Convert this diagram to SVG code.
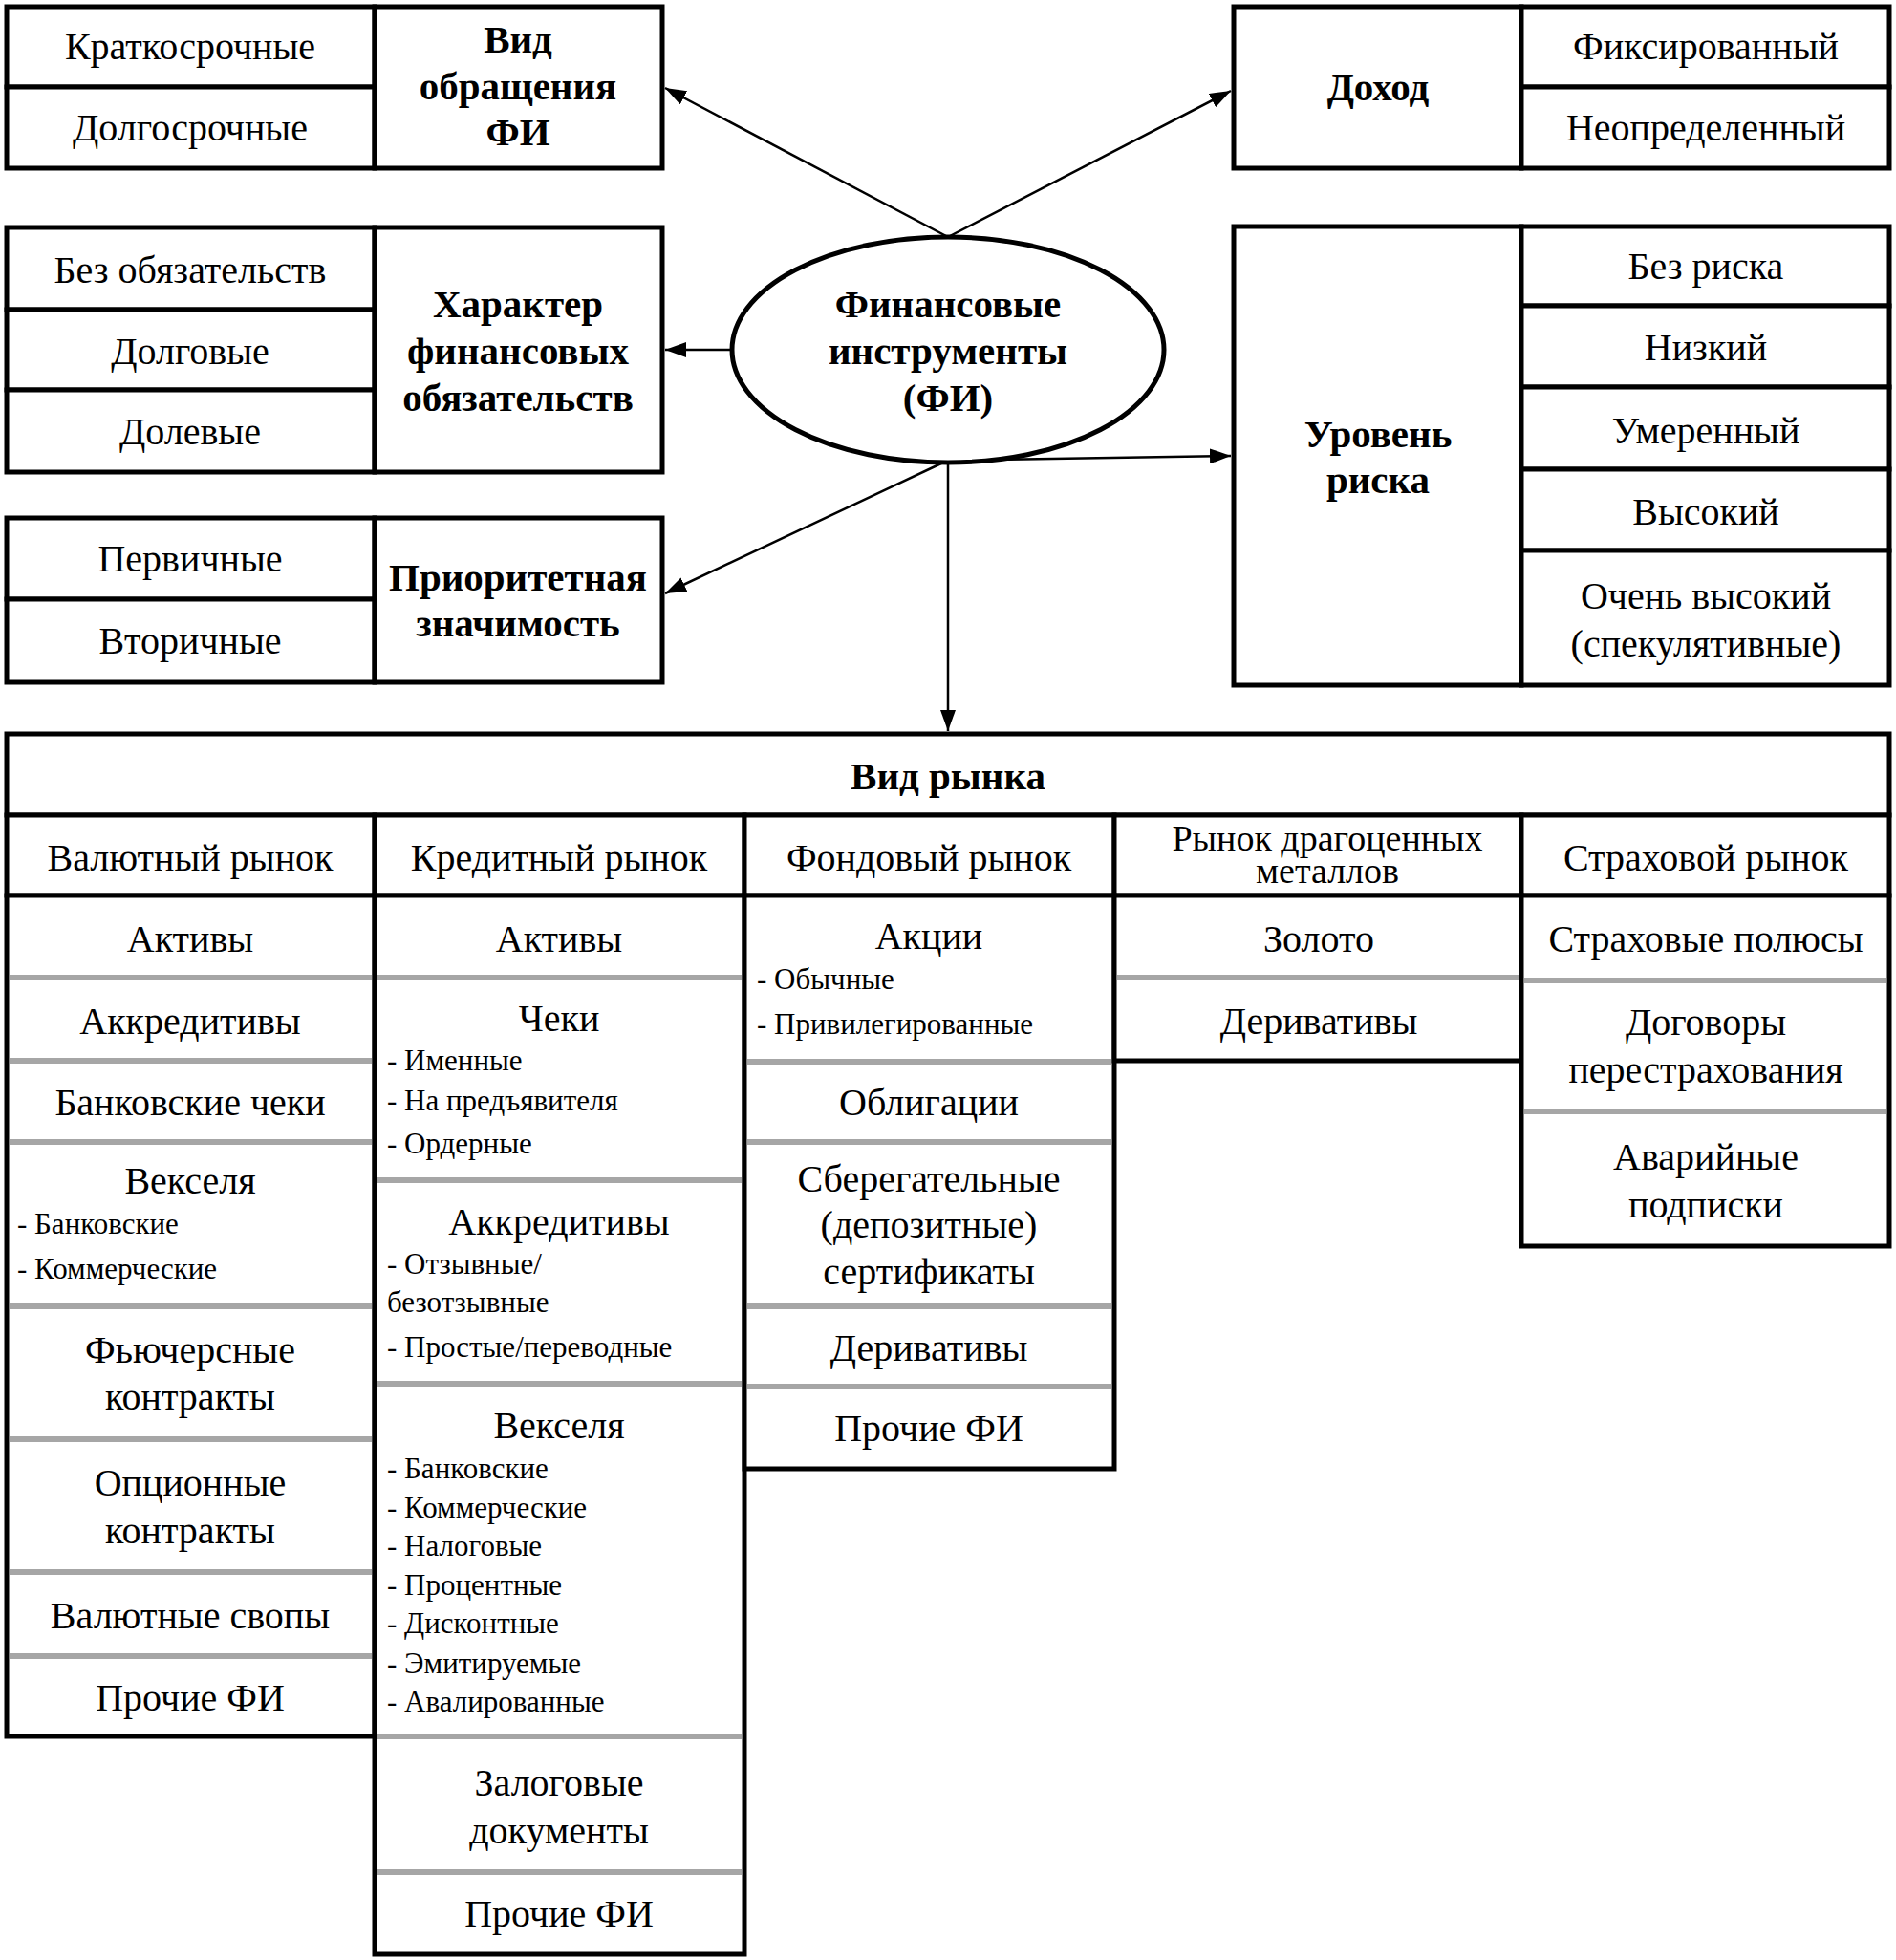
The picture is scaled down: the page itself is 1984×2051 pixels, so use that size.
<svg xmlns="http://www.w3.org/2000/svg" width="1984" height="2051" viewBox="0 0 1984 2051">
<defs>
<style>
.b{fill:#fff;stroke:#000;stroke-width:5}
.s{stroke:#a6a6a6;stroke-width:6}
text{font-family:"Liberation Serif","Times New Roman",serif;font-size:40px;fill:#000;text-anchor:middle}
.bd{font-weight:bold;font-size:41px}
.sm{font-size:31px;text-anchor:start}
.c{stroke:#000;stroke-width:2.5;fill:none;marker-end:url(#a)}
</style>
<marker id="a" viewBox="0 0 10 10" refX="10" refY="5" markerWidth="22" markerHeight="16" orient="auto" markerUnits="userSpaceOnUse" preserveAspectRatio="none"><path d="M0,0L10,5L0,10z" fill="#000"/></marker>
</defs>
<rect width="1984" height="2051" fill="#fff"/>
<g id="connectors">
<line class="c" x1="992" y1="248" x2="696" y2="92"/>
<line class="c" x1="992" y1="248" x2="1288" y2="95"/>
<line class="c" x1="765" y1="366" x2="696" y2="366"/>
<line class="c" x1="987" y1="484" x2="696" y2="621"/>
<line class="c" x1="1040" y1="481" x2="1288" y2="477"/>
<line class="c" x1="992" y1="484" x2="992" y2="765"/>
</g>
<g id="vid-obr">
<rect class="b" x="7" y="7" width="385" height="84"/><rect class="b" x="7" y="91" width="385" height="85"/><rect class="b" x="392" y="7" width="301" height="169"/>
<text x="199" y="62">Краткосрочные</text><text x="199" y="147">Долгосрочные</text>
<text class="bd" x="542" y="55">Вид</text><text class="bd" x="542" y="104">обращения</text><text class="bd" x="542" y="152">ФИ</text>
</g>
<g id="dohod">
<rect class="b" x="1291" y="7" width="301" height="169"/><rect class="b" x="1592" y="7" width="385" height="84"/><rect class="b" x="1592" y="91" width="385" height="85"/>
<text class="bd" x="1442" y="105">Доход</text><text x="1785" y="62">Фиксированный</text><text x="1785" y="147">Неопределенный</text>
</g>
<g id="harakter">
<rect class="b" x="7" y="238" width="385" height="86"/><rect class="b" x="7" y="324" width="385" height="84"/><rect class="b" x="7" y="408" width="385" height="86"/><rect class="b" x="392" y="238" width="301" height="256"/>
<text x="199" y="296">Без обязательств</text><text x="199" y="381">Долговые</text><text x="199" y="465">Долевые</text>
<text class="bd" x="542" y="332">Характер</text><text class="bd" x="542" y="381">финансовых</text><text class="bd" x="542" y="430">обязательств</text>
</g>
<g id="prior">
<rect class="b" x="7" y="542" width="385" height="85"/><rect class="b" x="7" y="627" width="385" height="87"/><rect class="b" x="392" y="542" width="301" height="172"/>
<text x="199" y="598">Первичные</text><text x="199" y="684">Вторичные</text>
<text class="bd" x="542" y="618">Приоритетная</text><text class="bd" x="542" y="666">значимость</text>
</g>
<g id="center">
<ellipse cx="992" cy="366" rx="226" ry="118" fill="#fff" stroke="#000" stroke-width="5"/>
<text class="bd" x="992" y="332">Финансовые</text><text class="bd" x="992" y="381">инструменты</text><text class="bd" x="992" y="430">(ФИ)</text>
</g>
<g id="risk">
<rect class="b" x="1291" y="237" width="301" height="480"/>
<rect class="b" x="1592" y="237" width="385" height="83"/><rect class="b" x="1592" y="320" width="385" height="85"/><rect class="b" x="1592" y="405" width="385" height="86"/><rect class="b" x="1592" y="491" width="385" height="85"/><rect class="b" x="1592" y="576" width="385" height="141"/>
<text class="bd" x="1442" y="468">Уровень</text><text class="bd" x="1442" y="516">риска</text>
<text x="1785" y="292">Без риска</text><text x="1785" y="377">Низкий</text><text x="1785" y="464">Умеренный</text><text x="1785" y="549">Высокий</text><text x="1785" y="637">Очень высокий</text><text x="1785" y="687">(спекулятивные)</text>
</g>
<g id="vid-rynka">
<rect class="b" x="7" y="768" width="1970" height="85"/>
<text class="bd" x="992" y="826">Вид рынка</text>
<rect class="b" x="7" y="853" width="385" height="84"/><rect class="b" x="392" y="853" width="387" height="84"/><rect class="b" x="779" y="853" width="387" height="84"/><rect class="b" x="1166" y="853" width="426" height="84"/><rect class="b" x="1592" y="853" width="385" height="84"/>
<text x="199" y="911">Валютный рынок</text><text x="585" y="911">Кредитный рынок</text><text x="972" y="911">Фондовый рынок</text>
<text x="1389" y="890" style="font-size:38px">Рынок драгоценных</text><text x="1389" y="924" style="font-size:38px">металлов</text><text x="1785" y="911">Страховой рынок</text>
</g>
<g id="col1">
<rect class="b" x="7" y="937" width="385" height="880"/>
<line class="s" x1="10" y1="1023" x2="389" y2="1023"/><line class="s" x1="10" y1="1110" x2="389" y2="1110"/><line class="s" x1="10" y1="1195" x2="389" y2="1195"/><line class="s" x1="10" y1="1367" x2="389" y2="1367"/><line class="s" x1="10" y1="1506" x2="389" y2="1506"/><line class="s" x1="10" y1="1645" x2="389" y2="1645"/><line class="s" x1="10" y1="1733" x2="389" y2="1733"/>
<text x="199" y="996">Активы</text><text x="199" y="1082">Аккредитивы</text><text x="199" y="1167">Банковские чеки</text><text x="199" y="1249">Векселя</text>
<text class="sm" x="18" y="1291">- Банковские</text><text class="sm" x="18" y="1338">- Коммерческие</text>
<text x="199" y="1426">Фьючерсные</text><text x="199" y="1475">контракты</text><text x="199" y="1565">Опционные</text><text x="199" y="1615">контракты</text>
<text x="199" y="1704">Валютные свопы</text><text x="199" y="1790">Прочие ФИ</text>
</g>
<g id="col2">
<rect class="b" x="392" y="937" width="387" height="1108"/>
<line class="s" x1="395" y1="1023" x2="776" y2="1023"/><line class="s" x1="395" y1="1235" x2="776" y2="1235"/><line class="s" x1="395" y1="1448" x2="776" y2="1448"/><line class="s" x1="395" y1="1817" x2="776" y2="1817"/><line class="s" x1="395" y1="1959" x2="776" y2="1959"/>
<text x="585" y="1079">Чеки</text><text x="585" y="996">Активы</text>
<text class="sm" x="405" y="1120">- Именные</text><text class="sm" x="405" y="1162">- На предъявителя</text><text class="sm" x="405" y="1207">- Ордерные</text>
<text x="585" y="1292">Аккредитивы</text>
<text class="sm" x="405" y="1333">- Отзывные/</text><text class="sm" x="405" y="1373">безотзывные</text><text class="sm" x="405" y="1420">- Простые/переводные</text>
<text x="585" y="1505">Векселя</text>
<text class="sm" x="405" y="1547">- Банковские</text><text class="sm" x="405" y="1588">- Коммерческие</text><text class="sm" x="405" y="1628">- Налоговые</text><text class="sm" x="405" y="1669">- Процентные</text><text class="sm" x="405" y="1709">- Дисконтные</text><text class="sm" x="405" y="1751">- Эмитируемые</text><text class="sm" x="405" y="1791">- Авалированные</text>
<text x="585" y="1879">Залоговые</text><text x="585" y="1929">документы</text><text x="585" y="2016">Прочие ФИ</text>
</g>
<g id="col3">
<rect class="b" x="779" y="937" width="387" height="600"/>
<line class="s" x1="782" y1="1111" x2="1163" y2="1111"/><line class="s" x1="782" y1="1195" x2="1163" y2="1195"/><line class="s" x1="782" y1="1367" x2="1163" y2="1367"/><line class="s" x1="782" y1="1451" x2="1163" y2="1451"/>
<text x="972" y="993">Акции</text><text class="sm" x="792" y="1035">- Обычные</text><text class="sm" x="792" y="1082">- Привилегированные</text>
<text x="972" y="1167">Облигации</text><text x="972" y="1247">Сберегательные</text><text x="972" y="1295">(депозитные)</text><text x="972" y="1344">сертификаты</text>
<text x="972" y="1424">Деривативы</text><text x="972" y="1508">Прочие ФИ</text>
</g>
<g id="col4">
<rect class="b" x="1166" y="937" width="426" height="173"/>
<line class="s" x1="1169" y1="1023" x2="1589" y2="1023"/>
<text x="1380" y="996">Золото</text><text x="1380" y="1082">Деривативы</text>
</g>
<g id="col5">
<rect class="b" x="1592" y="937" width="385" height="367"/>
<line class="s" x1="1595" y1="1026" x2="1974" y2="1026"/><line class="s" x1="1595" y1="1163" x2="1974" y2="1163"/>
<text x="1785" y="996">Страховые полюсы</text><text x="1785" y="1083">Договоры</text><text x="1785" y="1133">перестрахования</text><text x="1785" y="1224">Аварийные</text><text x="1785" y="1274">подписки</text>
</g>
</svg>
